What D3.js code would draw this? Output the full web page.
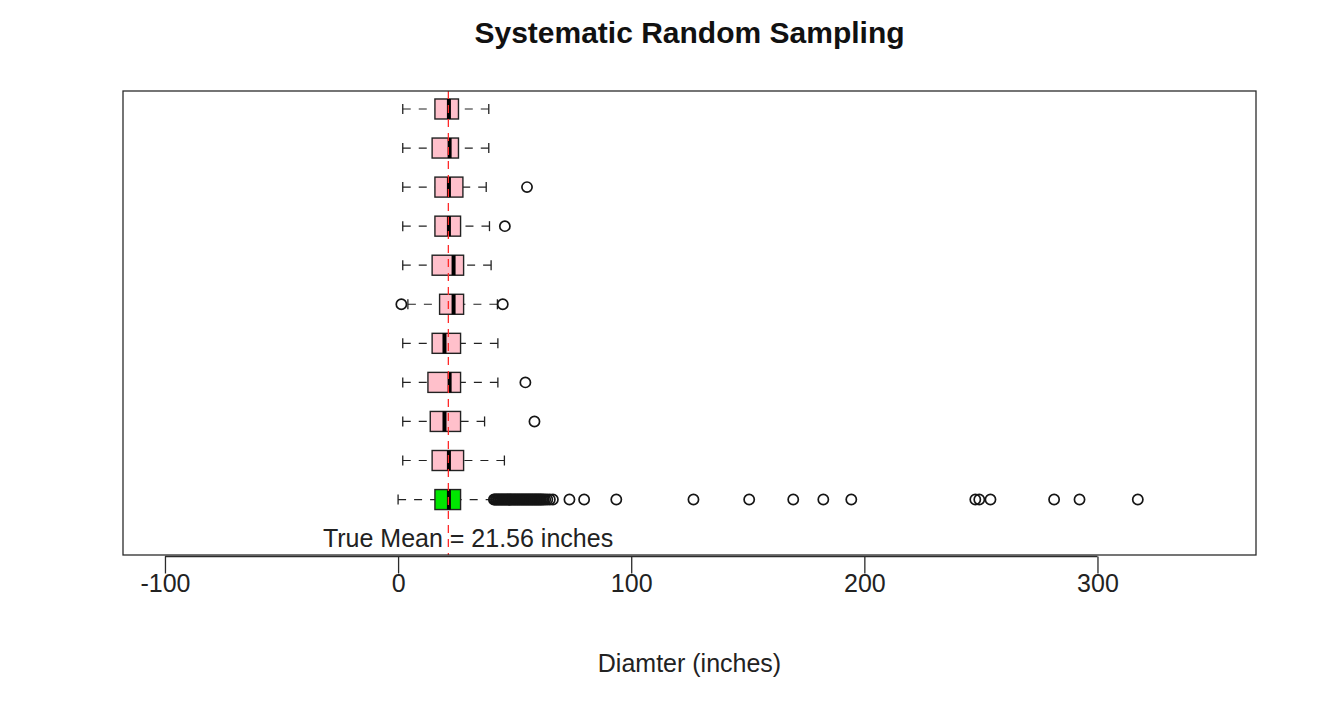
<!DOCTYPE html>
<html>
<head>
<meta charset="utf-8">
<script src="https://cdn.jsdelivr.net/npm/d3@7"></script>
<style>
  html, body { margin: 0; padding: 0; background: #fff; }
  svg { display: block; font-family: "Liberation Sans", Arial, Helvetica, sans-serif; }
</style>
</head>
<body>
<svg id="chart" width="1319" height="711"></svg>
<script>
// ---- Data (position 1 = population at bottom, 2..11 = samples going up) ----
const positions   = [1, 2, 3, 4, 5, 6, 7, 8, 9, 10, 11];
const whiskerLow  = [0,   2,    2,    2,    2,    4.2,  2,    2,    2,    2,    2];
const q1          = [15.8, 14.6, 13.8, 12.8, 14.6, 17.8, 14.6, 15.8, 15.8, 14.6, 15.8];
const medians     = [21.8, 21.8, 19.9, 22.1, 19.9, 23.8, 23.8, 21.8, 21.8, 22.1, 21.8];
const q3          = [26.8, 28.1, 26.8, 26.8, 26.8, 28.1, 28.1, 26.8, 27.8, 25.9, 25.9];
const whiskerHigh = [41,   45.6, 37.1, 42.8, 42.8, 42.6, 39.9, 39.2, 37.8, 38.9, 38.9];
const populationOutliers = [
  41.1, 41.5, 42.0, 42.4, 42.9, 43.3, 43.8, 44.2, 44.7, 45.1, 45.6, 46.0, 46.5,
  46.9, 47.4, 47.8, 48.3, 48.7, 49.2, 49.6, 50.1, 50.5, 51.0, 51.4, 51.9, 52.3,
  52.8, 53.2, 53.7, 54.1, 54.6, 55.0, 55.5, 55.9, 56.4, 56.8, 57.3, 57.7, 58.2,
  58.6, 59.1, 59.5, 60.0, 60.4, 60.9, 61.3, 61.8, 62.4, 63.1, 64.0, 65.1, 66.4,
  73.5, 79.8, 93.6, 126.7, 150.6, 169.5, 182.4, 194.4, 247.6, 249.3, 254.1,
  281.4, 292.3, 317.3
];
const sampleOutliers = [
  [], [58.5], [54.6], [], [1.4, 44.9], [], [45.8], [55.3], [], []
];
const outliers = [populationOutliers].concat(sampleOutliers);
const boxColors = ["#00e600", "pink", "pink", "pink", "pink", "pink", "pink", "pink", "pink", "pink", "pink"];
const trueMean = 21.56;
const xTicks = [-100, 0, 100, 200, 300];
const xLim = [-100, 350];
const yLim = [0, 11];
const titleText = "Systematic Random Sampling";
const xLabel = "Diamter (inches)";
const meanLabel = "True Mean = 21.56 inches";
const meanLabelX = 30;
const meanLabelY = 0;

// ---- Layout ----
const plot = { left: 123, right: 1256, top: 91, bottom: 555 };
const padX = (xLim[1] - xLim[0]) * 0.04;
const padY = (yLim[1] - yLim[0]) * 0.04;
const x = d3.scaleLinear().domain([xLim[0] - padX, xLim[1] + padX]).range([plot.left, plot.right]);
const y = d3.scaleLinear().domain([yLim[0] - padY, yLim[1] + padY]).range([plot.bottom, plot.top]);

const svg = d3.select("#chart");
const boxHalf = 10;
const stapleHalf = 5;
const ink = "#222";

const data = positions.map((p, i) => ({
  pos: p, lo: whiskerLow[i], q1: q1[i], med: medians[i], q3: q3[i], hi: whiskerHigh[i],
  out: outliers[i], fill: boxColors[i]
}));

const g = svg.append("g").attr("transform", "translate(0,0.8)");
const rows = g.selectAll("g.row").data(data).enter().append("g").attr("class", "row");

// whiskers (dashed, drawn from whisker end toward box)
rows.append("line")
  .attr("x1", d => x(d.lo)).attr("x2", d => x(d.q1))
  .attr("y1", d => y(d.pos)).attr("y2", d => y(d.pos))
  .attr("stroke", ink).attr("stroke-width", 1.2).attr("stroke-dasharray", "8,8");
rows.append("line")
  .attr("x1", d => x(d.hi)).attr("x2", d => x(d.q3))
  .attr("y1", d => y(d.pos)).attr("y2", d => y(d.pos))
  .attr("stroke", ink).attr("stroke-width", 1.2).attr("stroke-dasharray", "8,8");
// staples
rows.append("line")
  .attr("x1", d => x(d.lo)).attr("x2", d => x(d.lo))
  .attr("y1", d => y(d.pos) - stapleHalf).attr("y2", d => y(d.pos) + stapleHalf)
  .attr("stroke", ink).attr("stroke-width", 1.3);
rows.append("line")
  .attr("x1", d => x(d.hi)).attr("x2", d => x(d.hi))
  .attr("y1", d => y(d.pos) - stapleHalf).attr("y2", d => y(d.pos) + stapleHalf)
  .attr("stroke", ink).attr("stroke-width", 1.3);
// boxes
rows.append("rect")
  .attr("x", d => x(d.q1)).attr("width", d => x(d.q3) - x(d.q1))
  .attr("y", d => y(d.pos) - boxHalf).attr("height", boxHalf * 2)
  .attr("fill", d => d.fill).attr("stroke", ink).attr("stroke-width", 1.4);
// medians
rows.append("line")
  .attr("x1", d => x(d.med)).attr("x2", d => x(d.med))
  .attr("y1", d => y(d.pos) - boxHalf).attr("y2", d => y(d.pos) + boxHalf)
  .attr("stroke", "#000").attr("stroke-width", 4);
// outliers
rows.selectAll("circle").data(d => d.out.map(v => ({ v, pos: d.pos }))).enter()
  .append("circle")
  .attr("cx", d => x(d.v)).attr("cy", d => y(d.pos)).attr("r", 5.1)
  .attr("fill", "none").attr("stroke", "#151515").attr("stroke-width", 1.7);

// true mean line
svg.append("line")
  .attr("x1", x(trueMean)).attr("x2", x(trueMean))
  .attr("y1", plot.top).attr("y2", plot.bottom)
  .attr("stroke", "#ff2a2a").attr("stroke-width", 1.3).attr("stroke-dasharray", "8,6");

// mean label
svg.append("text")
  .attr("x", x(meanLabelX)).attr("y", y(meanLabelY)).attr("dy", "0.36em")
  .attr("text-anchor", "middle").attr("font-size", 25).attr("fill", "#222")
  .text(meanLabel);

// plot frame
svg.append("rect")
  .attr("x", plot.left).attr("y", plot.top)
  .attr("width", plot.right - plot.left).attr("height", plot.bottom - plot.top)
  .attr("fill", "none").attr("stroke", "#2b2b2b").attr("stroke-width", 1.3);

// x axis
const axis = d3.axisBottom(x).tickValues(xTicks).tickSize(17).tickFormat(d => String(d));
const ax = svg.append("g").attr("transform", `translate(0,${plot.bottom + 1.5})`).call(axis);
ax.select(".domain").remove();
ax.append("line")
  .attr("x1", x(xTicks[0])).attr("x2", x(xTicks[xTicks.length - 1]))
  .attr("y1", 0).attr("y2", 0).attr("stroke", "#2b2b2b").attr("stroke-width", 1.3);
ax.selectAll(".tick line").attr("stroke", "#2b2b2b").attr("stroke-width", 1.3);
ax.selectAll(".tick text")
  .attr("y", 35).attr("dy", null)
  .attr("font-size", 25).attr("font-family", "Liberation Sans, Arial, sans-serif").attr("fill", "#222");

// x label
svg.append("text")
  .attr("x", (plot.left + plot.right) / 2).attr("y", 672)
  .attr("text-anchor", "middle").attr("font-size", 25).attr("fill", "#222")
  .text(xLabel);

// title
svg.append("text")
  .attr("x", (plot.left + plot.right) / 2).attr("y", 43)
  .attr("text-anchor", "middle").attr("font-size", 30).attr("font-weight", "bold").attr("fill", "#111")
  .text(titleText);
</script>
</body>
</html>
